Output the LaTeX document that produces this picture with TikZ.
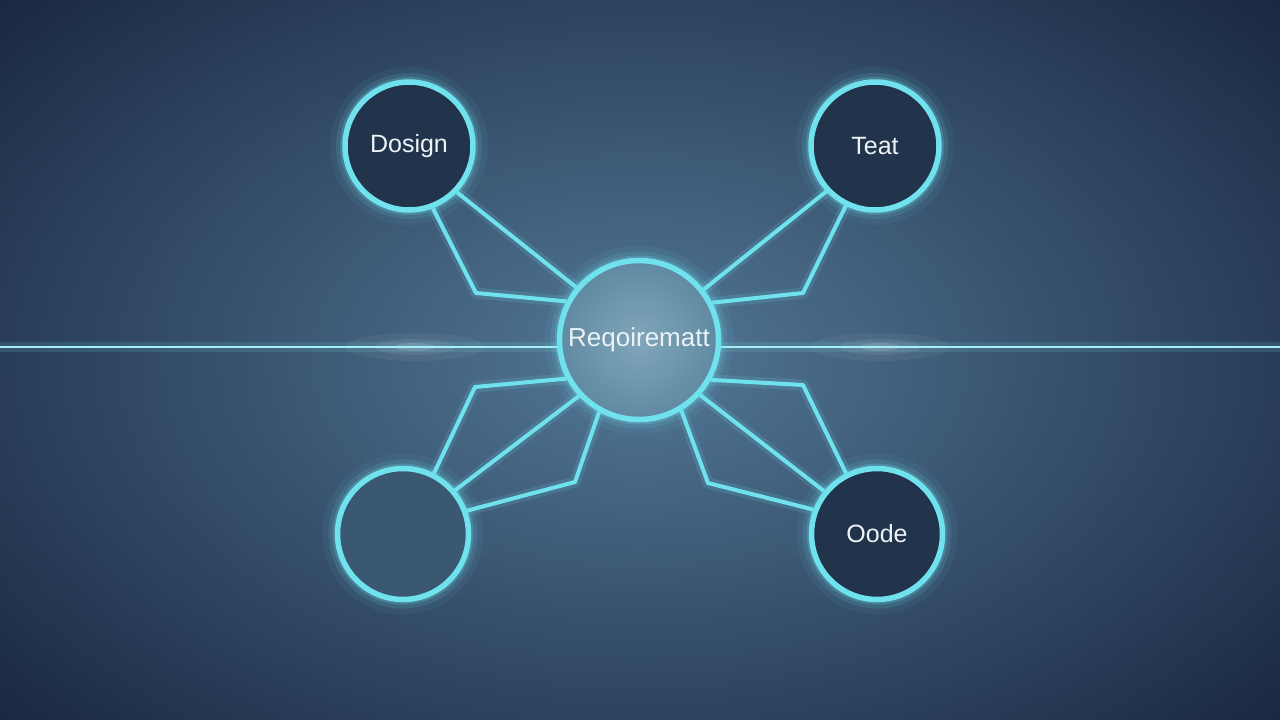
\documentclass[tikz,border=0pt]{standalone}
\usepackage{fontspec}
\setmainfont{Liberation Sans}
\definecolor{neoncyan}{RGB}{112,226,238}
\definecolor{bgin}{RGB}{82,120,150}
\definecolor{bgout}{RGB}{26,40,66}
\definecolor{darkfill}{RGB}{34,52,76}
\definecolor{midfill}{RGB}{58,88,114}
\definecolor{reqin}{RGB}{128,166,186}
\definecolor{reqout}{RGB}{96,138,162}
\definecolor{txt}{RGB}{236,242,246}
\pgfdeclarelayer{bgl}
\pgfdeclarelayer{wires}
\pgfsetlayers{bgl,wires,main}
\begin{document}
\begin{tikzpicture}[x=1pt,y=-1pt,
  neon/.style={circle, inner sep=0pt, draw=neoncyan, line width=5.5pt, text=txt,
    font=\fontsize{25}{29}\selectfont,
    preaction={draw=neoncyan, draw opacity=0.06, line width=30pt},
    preaction={draw=neoncyan, draw opacity=0.12, line width=18pt},
    preaction={draw=neoncyan, draw opacity=0.22, line width=10pt}},
  wire/.style={draw=neoncyan, line width=4pt, line join=round,
    preaction={draw=neoncyan, draw opacity=0.14, line width=11pt, line join=round}},
  hline/.style={draw=neoncyan!60!white, line width=2pt,
    preaction={draw=neoncyan, draw opacity=0.14, line width=10pt}}
]
\useasboundingbox (0,0) rectangle (1280,720);
\begin{pgfonlayer}{bgl}
  \shade[inner color=bgin, outer color=bgout] (-220,-180) rectangle (1500,900);
  \foreach \xx in {415,880} {
    \fill[white, opacity=0.05] (\xx,347) ellipse [x radius=70, y radius=14];
    \fill[white, opacity=0.08] (\xx,347) ellipse [x radius=40, y radius=8];
    \fill[white, opacity=0.14] (\xx,347) ellipse [x radius=20, y radius=4];
  }
\end{pgfonlayer}

\node[neon, inner color=reqin, outer color=reqout, minimum size=159pt,
  font=\fontsize{26}{30}\selectfont] (req) at (639,340) {Reqoirematt};
\node[neon, fill=darkfill, minimum size=128pt] (design) at (409,146) {Dosign};
\node[neon, fill=darkfill, minimum size=128pt] (test) at (875,146) {Teat};
\node[neon, fill=midfill, minimum size=131pt] (bl) at (403,534) {};
\node[neon, fill=darkfill, minimum size=131pt] (code) at (877,534) {Oode};

\begin{pgfonlayer}{wires}
  \coordinate (hl) at (0,347);
  \coordinate (hr) at (1280,347);
  \draw[hline] (hl) -- (hr);
  \coordinate (d1) at (476,293);
  \coordinate (t1) at (803,293);
  \coordinate (b1) at (475,387);
  \coordinate (b3) at (575,482);
  \coordinate (c1) at (803,385);
  \coordinate (c3) at (708,483);
  \draw[wire] (design.-69) -- (d1) -- (req.152);
  \draw[wire] (design.-44) -- (req.140);
  \draw[wire] (test.-137) -- (req.38);
  \draw[wire] (test.-116) -- (t1) -- (req.27);
  \draw[wire] (bl.63) -- (b1) -- (req.208);
  \draw[wire] (bl.40) -- (req.223);
  \draw[wire] (bl.20) -- (b3) -- (req.241);
  \draw[wire] (req.-29) -- (c1) -- (code.117);
  \draw[wire] (req.-42) -- (code.141);
  \draw[wire] (req.-59) -- (c3) -- (code.159);
\end{pgfonlayer}
\end{tikzpicture}
\end{document}
